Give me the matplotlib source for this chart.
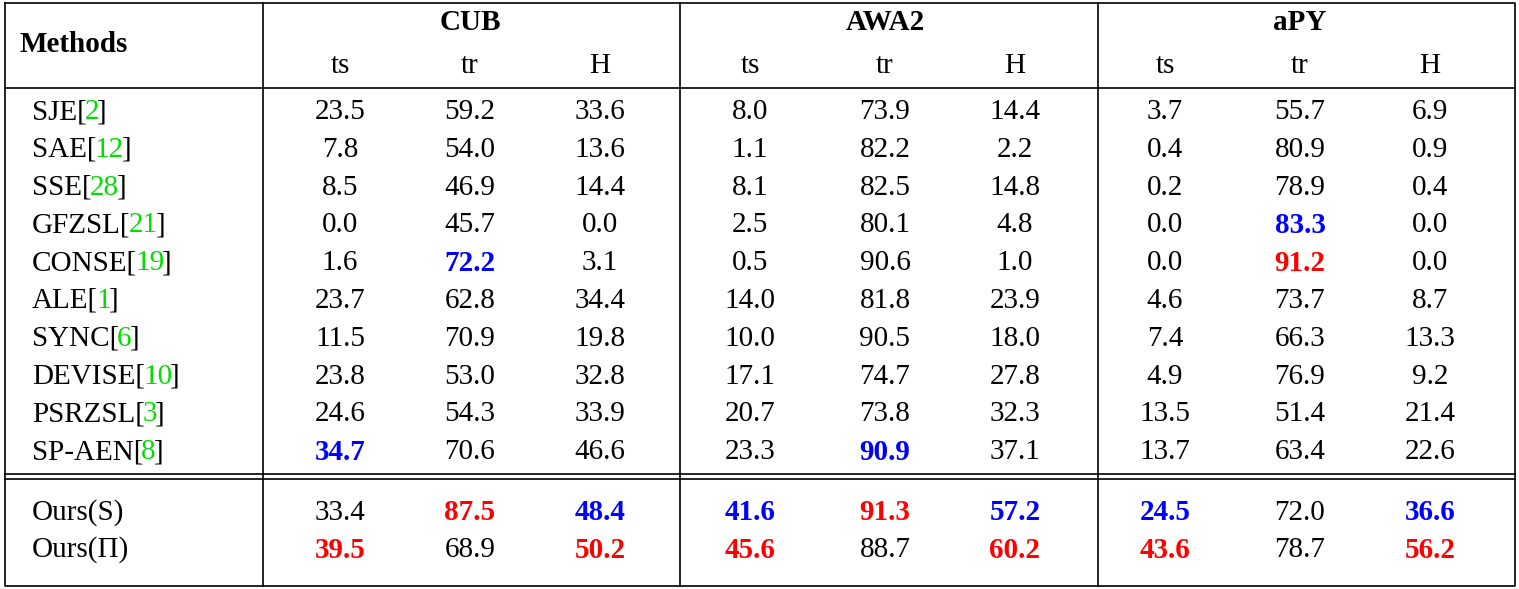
import matplotlib.pyplot as plt

plt.rcParams['font.family'] = ['Liberation Serif', 'DejaVu Serif']

datasets = ["CUB", "AWA2", "aPY"]
sub_cols = ["ts", "tr", "H"]
methods = ["SJE", "SAE", "SSE", "GFZSL", "CONSE", "ALE", "SYNC", "DEVISE", "PSRZSL", "SP-AEN",
           "Ours(S)", "Ours(Π)"]
cites = ["2", "12", "28", "21", "19", "1", "6", "10", "3", "8", "", ""]
values = [
    [23.5, 59.2, 33.6, 8.0, 73.9, 14.4, 3.7, 55.7, 6.9],
    [7.8, 54.0, 13.6, 1.1, 82.2, 2.2, 0.4, 80.9, 0.9],
    [8.5, 46.9, 14.4, 8.1, 82.5, 14.8, 0.2, 78.9, 0.4],
    [0.0, 45.7, 0.0, 2.5, 80.1, 4.8, 0.0, 83.3, 0.0],
    [1.6, 72.2, 3.1, 0.5, 90.6, 1.0, 0.0, 91.2, 0.0],
    [23.7, 62.8, 34.4, 14.0, 81.8, 23.9, 4.6, 73.7, 8.7],
    [11.5, 70.9, 19.8, 10.0, 90.5, 18.0, 7.4, 66.3, 13.3],
    [23.8, 53.0, 32.8, 17.1, 74.7, 27.8, 4.9, 76.9, 9.2],
    [24.6, 54.3, 33.9, 20.7, 73.8, 32.3, 13.5, 51.4, 21.4],
    [34.7, 70.6, 46.6, 23.3, 90.9, 37.1, 13.7, 63.4, 22.6],
    [33.4, 87.5, 48.4, 41.6, 91.3, 57.2, 24.5, 72.0, 36.6],
    [39.5, 68.9, 50.2, 45.6, 88.7, 60.2, 43.6, 78.7, 56.2],
]
# b = second best (blue), r = best (red)
marks = [
    ".........",
    ".........",
    ".........",
    ".......b.",
    ".b.....r.",
    ".........",
    ".........",
    ".........",
    ".........",
    "b...b....",
    ".rbbrbb.b",
    "r.rr.rr.r",
]

colors = {"b": "#0000ff", "r": "#ff0000"}
green = "#00dd00"
fs = 21

fig = plt.figure(figsize=(15.19, 5.89), dpi=100)
ax = fig.add_axes([0, 0, 1, 1])
ax.set_xlim(0, 1519)
ax.set_ylim(589, 0)
ax.axis("off")

# grid lines
lw = 1.2
ax.plot([5, 1515, 1515, 5, 5], [3, 3, 586, 586, 3], color="black", lw=lw)
for x in [263, 680, 1098]:
    ax.plot([x, x], [3, 586], color="black", lw=lw)
for y in [88, 474, 479]:
    ax.plot([5, 1515], [y, y], color="black", lw=lw)

col_x = [340, 470, 600, 750, 885, 1015, 1165, 1300, 1430]
ax.text(20, 44, "Methods", fontsize=fs, fontweight="bold", va="center", ha="left")
for i, d in enumerate(datasets):
    ax.text(col_x[3 * i + 1], 22, d, fontsize=fs, fontweight="bold", ha="center", va="center")
    for j, s in enumerate(sub_cols):
        ax.text(col_x[3 * i + j], 66, s, fontsize=fs, ha="center", va="center")

row_y = [112 + 37.8 * k for k in range(10)] + [513, 550]

fig.canvas.draw()
rend = fig.canvas.get_renderer()
inv = ax.transData.inverted()

for r, name in enumerate(methods):
    y = row_y[r]
    x = 32
    parts = [(name, "black")]
    if cites[r]:
        parts = [(name + "[", "black"), (cites[r], green), ("]", "black")]
    for txt, c in parts:
        t = ax.text(x, y, txt, fontsize=fs, color=c, ha="left", va="center")
        bb = t.get_window_extent(renderer=rend)
        x0 = inv.transform((bb.x0, 0))[0]
        x1 = inv.transform((bb.x1, 0))[0]
        x += x1 - x0 - 2
    for c, v in enumerate(values[r]):
        m = marks[r][c]
        ax.text(col_x[c], y, f"{v:.1f}", fontsize=fs, ha="center", va="center",
                color=colors.get(m, "black"), fontweight="bold" if m in colors else "normal")

fig.savefig("out.png", dpi=100)
